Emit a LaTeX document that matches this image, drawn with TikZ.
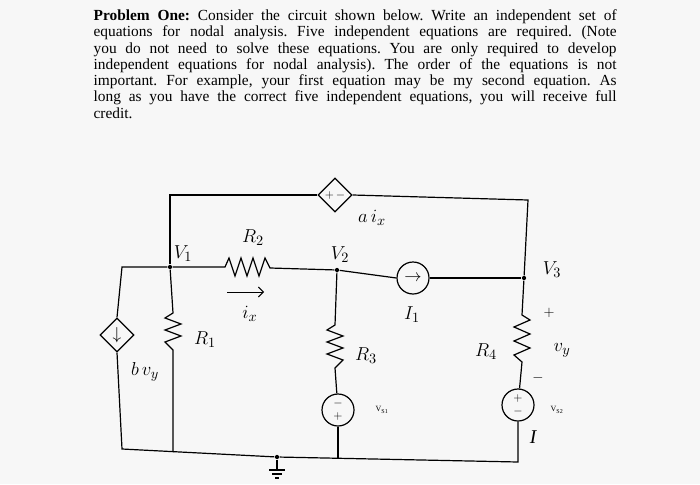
\documentclass[tikz,border=0pt]{standalone}
\usepackage{fontspec}
\setmainfont{Liberation Serif}
\usetikzlibrary{shapes.geometric,arrows.meta}
\begin{document}
\begin{tikzpicture}[x=1pt,y=-1pt,line width=1.2pt,
  lbl/.style={font=\fontsize{15}{15}\selectfont\itshape,scale=1.3},
  src/.style={circle,draw,line width=1.2pt,minimum size=32pt,inner sep=0pt},
  dsrc/.style={diamond,draw,line width=1.2pt,minimum size=34pt,inner sep=0pt},
  sgn/.style={font=\fontsize{13}{13}\selectfont,inner sep=0pt},
  dot/.style={circle,fill,inner sep=1.5pt}]
\fill[gray!6] (0,0) rectangle (700,484);
\useasboundingbox (0,0) rectangle (700,484);
\node[anchor=north west,text width=523pt,align=justify,inner sep=0pt,font=\fontsize{15.4}{16.3}\selectfont] (txt) at (93,9)
{\frenchspacing\hyphenpenalty=10000\relax\textbf{Problem One:} Consider the circuit shown below. Write an independent set of\linebreak equations for nodal analysis. Five independent equations are required. (Note\linebreak you do not need to solve these equations. You are only required to develop\linebreak independent equations for nodal analysis). The order of the equations is not\linebreak important. For example, your first equation may be my second equation. As\linebreak long as you have the correct five independent equations, you will receive full\linebreak credit.};
% nodes
\node[dot] (v1) at (170,267) {};
\node[dot] (v2) at (337,270) {};
\node[dot] (v3) at (524,278) {};
\node[dot] (gnd) at (277,457) {};
\coordinate (tl) at (170,195);
\coordinate (tr) at (528,200);
\node[dsrc] (ai) at (335,195) {\fontsize{13}{13}\selectfont$+\,-$};
\node[dsrc] (bv) at (117,335) {\fontsize{16}{16}\selectfont$\downarrow$};
\node[src] (i1) at (413,278) {\fontsize{16}{16}\selectfont$\rightarrow$};
\node[src] (vs1) at (338,410) {};
\node[sgn] (vs1a) at (338,403) {$-$};
\node[sgn] (vs1b) at (338,416) {$+$};
\node[src] (vs2) at (518,405) {};
\node[sgn] (vs2a) at (518,398) {$+$};
\node[sgn] (vs2b) at (518,411) {$-$};
% top loop
\draw (v1) -- (tl) -- (ai.west);
\draw (ai.east) -- (tr) -- (v3);
% R2
\draw (v1) -- (225,267) -- (229,258) -- (235,276) -- (241,258) -- (247,276) -- (253,258) -- (259,276) -- (265,258) -- (270,268) -- (v2);
\draw (v2) -- (i1.west); \draw (i1.east) -- (v3);
% left dependent source
\draw (v1) -- (122,267) -- (bv.north);
\draw (bv.south) -- (122,449) -- (gnd);
% R1
\draw (v1) -- (173,313) -- (165,318) -- (181,324) -- (165,330) -- (181,336) -- (165,342) -- (173,350) -- (173,452);
% R3
\draw (v2) -- (335,325) -- (327,330) -- (343,336) -- (327,342) -- (343,348) -- (327,354) -- (343,360) -- (335,368) -- (vs1);
\draw (vs1) -- (338,458);
% R4
\draw (v3) -- (522,315) -- (530,320) -- (514,327) -- (530,334) -- (514,341) -- (530,348) -- (514,355) -- (522,362) -- (vs2);
\draw (vs2) -- (518,462) -- (gnd);
\draw (gnd) -- (277,470);
\draw (269,470) -- (285,470) (272,474) -- (282,474) (275,478) -- (279,478);
% labels
\node[lbl] (lai) at (372,218) {$a\,i_x$};
\node[lbl] (lv1) at (183,254) {$V_1$};
\node[lbl] (lr2) at (253,238) {$R_2$};
\node[lbl] (lv2) at (340,255) {$V_2$};
\node[lbl] (lv3) at (552,270) {$V_3$};
\node[lbl] (lix) at (250,314) {$i_x$};
\draw[-{Straight Barb[length=5pt]},line width=0.9pt] (227,292) -- (264,292);
\node[lbl] (li1) at (412,315) {$I_1$};
\node[lbl] (lr1) at (205,340) {$R_1$};
\node[lbl] (lr3) at (366,356) {$R_3$};
\node[lbl] (lr4) at (486,352) {$R_4$};
\node[lbl] (lbv) at (145,372) {$b\,v_y$};
\node[font=\fontsize{15}{15}\selectfont] (lp) at (549,313) {$+$};
\node[lbl] (lvy) at (562,350) {$v_y$};
\node[font=\fontsize{15}{15}\selectfont] (lm) at (538,378) {$-$};
\node[font=\footnotesize] (ls1) at (382,410) {V\textsubscript{S1}};
\node[font=\footnotesize] (ls2) at (557,410) {V\textsubscript{S2}};
\node[lbl] (lI) at (533,437) {I};
\end{tikzpicture}
\end{document}
